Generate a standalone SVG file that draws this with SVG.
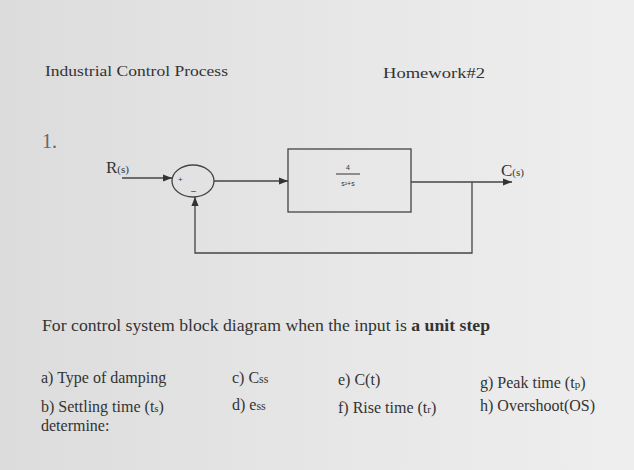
<svg xmlns="http://www.w3.org/2000/svg" width="634" height="470" viewBox="0 0 634 470">
<defs>
<linearGradient id="bg" x1="0" y1="0" x2="1" y2="0"><stop offset="0" stop-color="#dcdcdc"/><stop offset="0.6" stop-color="#e8e8e8"/><stop offset="1" stop-color="#eeeeee"/></linearGradient>
<marker id="ar" viewBox="0 0 10 10" refX="10" refY="5" markerWidth="7" markerHeight="7" orient="auto"><path d="M0,1 L10,5 L0,9 z" fill="#333"/></marker>
<style>
.t{font-family:"Liberation Serif",serif;fill:#333}
.ln{stroke:#444;stroke-width:1.3;fill:none}
</style>
</defs>
<rect width="634" height="470" fill="url(#bg)"/>
<text class="t" x="45" y="76" font-size="15" textLength="183" lengthAdjust="spacingAndGlyphs">Industrial Control Process</text>
<text class="t" x="383" y="78" font-size="15" textLength="102" lengthAdjust="spacingAndGlyphs">Homework#2</text>
<text x="42" y="148" font-size="20" font-family="Liberation Serif,serif" fill="#666">1.</text>
<g id="R"><text class="t" x="106" y="173" font-size="17">R<tspan font-size="11">(s)</tspan></text></g>
<g id="C"><text class="t" x="501" y="176" font-size="17">C<tspan font-size="11">(s)</tspan></text></g>
<g id="sum"><ellipse cx="193" cy="181" rx="21" ry="16" class="ln" fill="none"/>
<text x="178" y="182" font-family="Liberation Sans,sans-serif" font-size="8" fill="#333">+</text>
<text x="191" y="194" font-family="Liberation Sans,sans-serif" font-size="9" fill="#333">–</text></g>
<g id="plant"><rect x="288" y="149" width="123" height="63" class="ln"/>
<text x="348" y="170" font-family="Liberation Sans,sans-serif" font-size="7" fill="#333" text-anchor="middle">4</text>
<line x1="336" y1="174" x2="360" y2="174" stroke="#333" stroke-width="1"/>
<text x="348" y="186" font-family="Liberation Sans,sans-serif" font-size="7" fill="#333" text-anchor="middle">s²+s</text></g>
<g id="connectors">
<line x1="122" y1="178" x2="172" y2="178" class="ln" marker-end="url(#ar)"/>
<line x1="214" y1="181" x2="288" y2="181" class="ln" marker-end="url(#ar)"/>
<line x1="411" y1="182" x2="512" y2="182" class="ln" marker-end="url(#ar)"/>
<polyline points="472,182 472,253 195,253 195,197" class="ln" marker-end="url(#ar)"/>
</g>
<text class="t" x="42" y="331" font-size="16" textLength="448" lengthAdjust="spacingAndGlyphs">For control system block diagram when the input is <tspan font-weight="bold">a unit step</tspan></text>
<g class="t" font-size="16">
<text x="41" y="383">a) Type of damping</text>
<text x="41" y="412">b) Settling time (t<tspan font-size="11">s</tspan>)</text>
<text x="41" y="431">determine:</text>
<text x="232" y="383">c) C<tspan font-size="12">ss</tspan></text>
<text x="232" y="410">d) e<tspan font-size="12">ss</tspan></text>
<text x="338" y="385">e) C(t)</text>
<text x="338" y="413">f) Rise time (t<tspan font-size="11">r</tspan>)</text>
<text x="480" y="388">g) Peak time (t<tspan font-size="11">p</tspan>)</text>
<text x="480" y="411">h) Overshoot(OS)</text>
</g>
</svg>
